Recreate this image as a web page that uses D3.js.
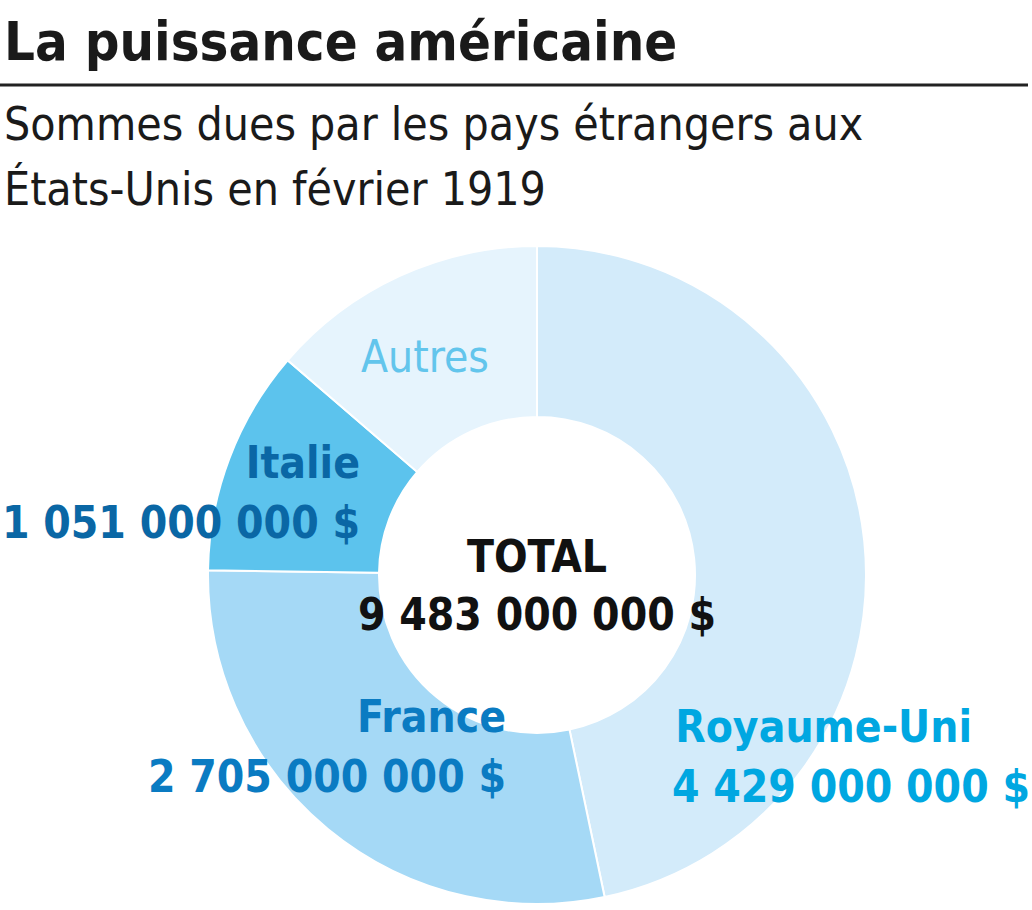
<!DOCTYPE html>
<html><head><meta charset="utf-8">
<script src="https://cdn.jsdelivr.net/npm/d3@7"></script>
<style>body{margin:0;background:#fff}svg{display:block}text{font-family:"Liberation Sans Narrow","DejaVu Sans Condensed",sans-serif}</style>
</head><body>
<script>
const categories=["Royaume-Uni","France","Italie","Autres"];
const values=[4429000000,2705000000,1051000000,1298000000];
const valueLabels=["4 429 000 000 $","2 705 000 000 $","1 051 000 000 $",""];
const totalLabel="9 483 000 000 $";
const fills=["#d3ebfa","#a5d9f6","#5cc3ed","#e6f4fd"];
const textColors=["#00a7e1","#0a7bc2","#0a67a5","#62c5ec"];
const W=1032,H=910;
const svg=d3.select("body").append("svg").attr("width",W).attr("height",H);
svg.append("text").attr("x",4).attr("y",60).attr("font-size",54).attr("font-weight","bold").attr("fill","#1a1a1a").text("La puissance américaine");
svg.append("line").attr("x1",0).attr("x2",1028).attr("y1",85).attr("y2",85).attr("stroke","#222").attr("stroke-width",3);
svg.append("text").attr("x",4).attr("y",140).attr("font-size",46).attr("fill","#1a1a1a").text("Sommes dues par les pays étrangers aux");
svg.append("text").attr("x",4).attr("y",205).attr("font-size",46).attr("fill","#1a1a1a").text("États-Unis en février 1919");
const cx=537,cy=575,R=329,r=158;
const pie=d3.pie().sort(null).value(d=>d)(values);
const arc=d3.arc().innerRadius(r).outerRadius(R);
const g=svg.append("g").attr("transform",`translate(${cx},${cy})`);
g.selectAll("path").data(pie).join("path").attr("d",arc).attr("fill",(d,i)=>fills[i]).attr("stroke","#fff").attr("stroke-width",2);
const lab=[{x:972,y:742,a:"end"},{x:506,y:732,a:"end"},{x:360,y:478,a:"end"},{x:425,y:372,a:"middle"}];
categories.forEach((c,i)=>{
  const t=svg.append("text").attr("text-anchor",lab[i].a).attr("fill",textColors[i]).attr("font-size",44).attr("font-weight",i<3?"bold":"normal");
  t.append("tspan").attr("x",lab[i].x).attr("y",lab[i].y).text(c);
  if(valueLabels[i]){
    const vx=i==0?1030:lab[i].x+ (i==2?0:0);
    t.append("tspan").attr("x",i==0?1030:lab[i].x).attr("y",lab[i].y+60).attr("text-anchor","end").text(valueLabels[i]);
  }
});
svg.append("text").attr("x",537).attr("y",572).attr("text-anchor","middle").attr("font-size",44).attr("font-weight","bold").attr("fill","#111").text("TOTAL");
svg.append("text").attr("x",537).attr("y",630).attr("text-anchor","middle").attr("font-size",44).attr("font-weight","bold").attr("fill","#111").text(totalLabel);
</script>
</body></html>
